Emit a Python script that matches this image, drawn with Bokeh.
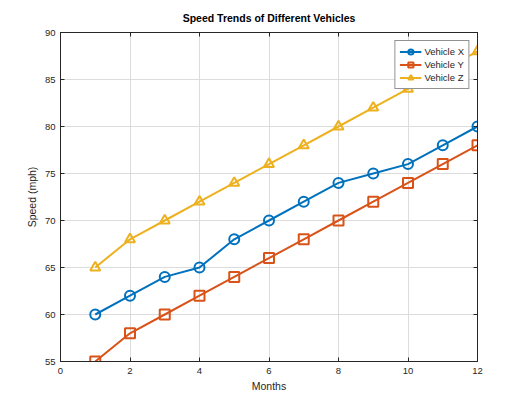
from bokeh.plotting import figure
from bokeh.models import Range1d, LinearAxis, FixedTicker
from bokeh.embed import file_html
from bokeh.resources import INLINE

months = [1, 2, 3, 4, 5, 6, 7, 8, 9, 10, 11, 12]
vehicle_x = [60, 62, 64, 65, 68, 70, 72, 74, 75, 76, 78, 80]
vehicle_y = [55, 58, 60, 62, 64, 66, 68, 70, 72, 74, 76, 78]
vehicle_z = [65, 68, 70, 72, 74, 76, 78, 80, 82, 84, 86, 88]
x_ticks = [0, 2, 4, 6, 8, 10, 12]
y_ticks = [55, 60, 65, 70, 75, 80, 85, 90]

FONT = "Liberation Sans"
AX = "#262626"

p = figure(width=516, height=400, output_backend="svg", toolbar_location=None,
           x_range=Range1d(0, 12), y_range=Range1d(55, 90),
           title="Speed Trends of Different Vehicles",
           min_border_left=60, min_border_right=39, min_border_top=32, min_border_bottom=39)
p.frame_width = 417
p.frame_height = 329

p.title.align = "center"
p.title.text_font = FONT
p.title.text_font_size = "10.5px"
p.title.text_font_style = "bold"
p.title.text_color = "#000000"
p.title.offset = 0
p.title.standoff = 18

p.background_fill_color = "white"
p.border_fill_color = "white"
p.outline_line_color = AX
p.outline_line_width = 1

for ax in (p.xaxis[0], p.yaxis[0]):
    ax.major_tick_in = 4
    ax.major_tick_out = 0
    ax.minor_tick_line_color = None
    ax.axis_line_color = AX
    ax.major_tick_line_color = AX
    ax.major_label_text_font = FONT
    ax.major_label_text_font_size = "9.5px"
    ax.major_label_text_color = AX
    ax.axis_label_text_font = FONT
    ax.axis_label_text_font_size = "10.5px"
    ax.axis_label_text_font_style = "normal"
    ax.axis_label_text_color = AX

p.xaxis.ticker = FixedTicker(ticks=x_ticks)
p.yaxis.ticker = FixedTicker(ticks=y_ticks)
p.xaxis.axis_label = "Months"
p.yaxis.axis_label = "Speed (mph)"
p.xaxis.major_label_standoff = 6
p.yaxis.major_label_standoff = 5
p.xaxis.axis_label_standoff = 3
p.yaxis.axis_label_standoff = 4

# ticks on the top and right edges, no labels
top = LinearAxis(ticker=FixedTicker(ticks=x_ticks), major_tick_in=4, major_tick_out=0,
                 minor_tick_line_color=None, axis_line_color=AX, major_tick_line_color=AX,
                 major_label_overrides={t: "" for t in x_ticks}, major_label_standoff=0)
right = LinearAxis(ticker=FixedTicker(ticks=y_ticks), major_tick_in=4, major_tick_out=0,
                   minor_tick_line_color=None, axis_line_color=AX, major_tick_line_color=AX,
                   major_label_overrides={t: "" for t in y_ticks}, major_label_standoff=0)
p.add_layout(top, "above")
p.add_layout(right, "right")

p.grid.grid_line_color = "#dcdcdc"
p.grid.grid_line_width = 1
p.xgrid.ticker = FixedTicker(ticks=x_ticks)
p.ygrid.ticker = FixedTicker(ticks=y_ticks)

series = [
    ("Vehicle X", vehicle_x, "#0072BD", "circle"),
    ("Vehicle Y", vehicle_y, "#D95319", "square"),
    ("Vehicle Z", vehicle_z, "#EDB120", "triangle"),
]
for name, vals, color, marker in series:
    p.line(months, vals, line_color=color, line_width=2, legend_label=name)
    p.scatter(months, vals, marker=marker, size=10, fill_color=None,
              line_color=color, line_width=2, legend_label=name)

p.legend.location = "top_right"
p.legend.margin = 8
p.legend.padding = 4
p.legend.spacing = 0
p.legend.label_text_font = FONT
p.legend.label_text_font_size = "9.5px"
p.legend.label_text_color = AX
p.legend.label_height = 13
p.legend.glyph_height = 13
p.legend.glyph_width = 22
p.legend.label_standoff = 3
p.legend.border_line_color = AX
p.legend.border_line_width = 1
p.legend.background_fill_alpha = 1.0

open("out.html", "w").write(file_html(p, INLINE))
